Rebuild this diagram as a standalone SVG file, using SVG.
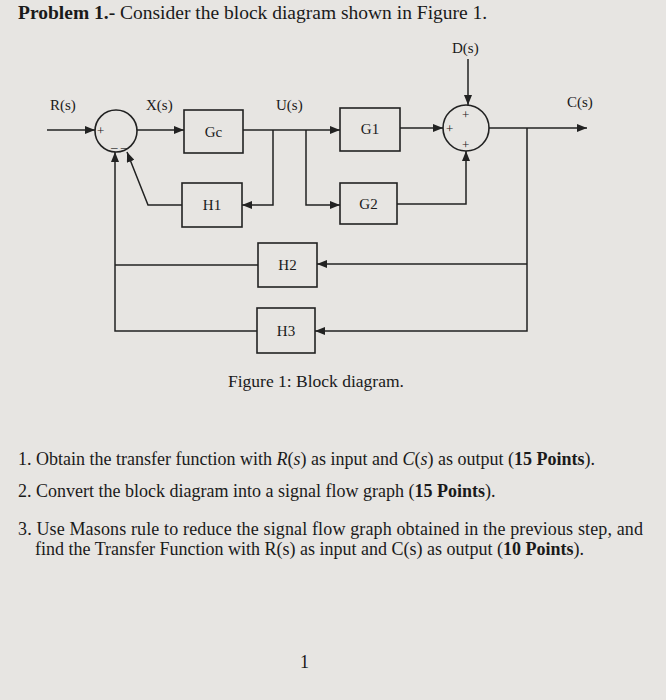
<svg xmlns="http://www.w3.org/2000/svg" width="666" height="700" viewBox="0 0 666 700">
<defs>
<marker id="a" markerWidth="10" markerHeight="8" refX="10" refY="4" orient="auto" markerUnits="userSpaceOnUse"><path d="M0,0 L10,4 L0,8 Z" fill="#222"/></marker>
<style>
text{font-family:"Liberation Serif","DejaVu Serif",serif;fill:#1a1a1a}
.l{font-size:15px}
.b{fill:none;stroke:#222;stroke-width:1.6}
.w{fill:none;stroke:#222;stroke-width:1.5}
.t{font-size:18px}
.s{font-size:13px}
</style>
</defs>
<rect width="666" height="700" fill="#e7e5e2"/>
<text x="18" y="19" font-size="19.5"><tspan font-weight="bold">Problem 1.-</tspan> Consider the block diagram shown in Figure 1.</text>
<g id="labels" class="l">
<text x="452" y="53">D(s)</text>
<text x="50" y="110">R(s)</text>
<text x="146" y="110">X(s)</text>
<text x="276" y="110">U(s)</text>
<text x="567" y="107">C(s)</text>
</g>
<g id="sum1"><circle cx="116" cy="131" r="21" class="b"/><text x="97" y="135" class="s">+</text><text x="111" y="151" class="s">– –</text></g>
<g id="sum2"><circle cx="466" cy="128" r="23" class="b"/><text x="462" y="119" class="s">+</text><text x="446" y="133" class="s">+</text><text x="462" y="149" class="s">+</text></g>
<g id="Gc"><rect x="184" y="110" width="59" height="43" class="b"/><text x="213.5" y="137" class="l" text-anchor="middle">Gc</text></g>
<g id="G1"><rect x="340" y="108" width="60" height="43" class="b"/><text x="370" y="134" class="l" text-anchor="middle">G1</text></g>
<g id="G2"><rect x="340" y="183" width="57" height="41" class="b"/><text x="368.5" y="209" class="l" text-anchor="middle">G2</text></g>
<g id="H1"><rect x="182" y="183" width="60" height="44" class="b"/><text x="212" y="210" class="l" text-anchor="middle">H1</text></g>
<g id="H2"><rect x="258" y="243" width="59" height="44" class="b"/><text x="287.5" y="270" class="l" text-anchor="middle">H2</text></g>
<g id="H3"><rect x="257" y="308" width="58" height="45" class="b"/><text x="286" y="336" class="l" text-anchor="middle">H3</text></g>
<g id="connectors" class="w">
<path d="M47,130 H95" marker-end="url(#a)"/>
<path d="M137,130 H184" marker-end="url(#a)"/>
<path d="M243,130 H340" marker-end="url(#a)"/>
<path d="M273,130 V205 H242" marker-end="url(#a)"/>
<path d="M306,130 V205 H340" marker-end="url(#a)"/>
<path d="M400,128 H443" marker-end="url(#a)"/>
<path d="M468,59 V105" marker-end="url(#a)"/>
<path d="M397,204 H466 V151" marker-end="url(#a)"/>
<path d="M489,128 H587" marker-end="url(#a)"/>
<path d="M182,205 H148 L127,152" marker-end="url(#a)"/>
<path d="M527,128 V331 H315" marker-end="url(#a)"/>
<path d="M527,264 H317" marker-end="url(#a)"/>
<path d="M258,265 H115"/>
<path d="M257,331 H115 V152" marker-end="url(#a)"/>
</g>
<text x="228" y="387" font-size="17.5">Figure 1: Block diagram.</text>
<g class="t">
<text x="18" y="465">1. Obtain the transfer function with <tspan font-style="italic">R</tspan>(<tspan font-style="italic">s</tspan>) as input and <tspan font-style="italic">C</tspan>(<tspan font-style="italic">s</tspan>) as output (<tspan font-weight="bold">15 Points</tspan>).</text>
<text x="18" y="497">2. Convert the block diagram into a signal flow graph (<tspan font-weight="bold">15 Points</tspan>).</text>
<text x="18" y="535" textLength="625" lengthAdjust="spacing">3. Use Masons rule to reduce the signal flow graph obtained in the previous step, and</text>
<text x="35" y="555">find the Transfer Function with R(s) as input and C(s) as output (<tspan font-weight="bold">10 Points</tspan>).</text>
</g>
<text x="300" y="668" class="t">1</text>
</svg>
